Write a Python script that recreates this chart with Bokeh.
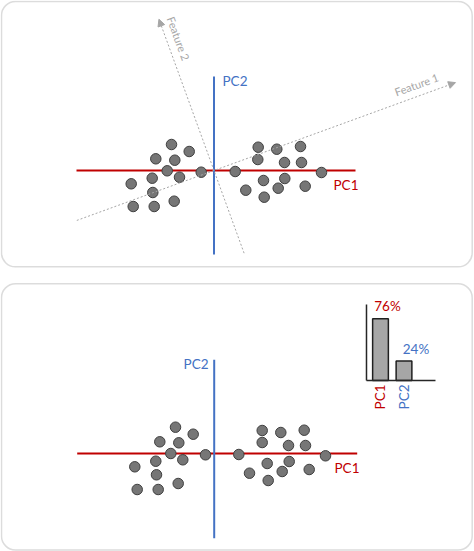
import math
from bokeh.plotting import figure
from bokeh.layouts import column
from bokeh.models import Range1d, BoxAnnotation, Arrow, NormalHead, Label
from bokeh.core.properties import value
from bokeh.embed import file_html
from bokeh.resources import INLINE

# ---------------- data ----------------
# Top panel: observations in original feature space (shown w.r.t. PC axes)
top_pc1 = [-42.5, -24.8, -58.2, -39.2, -46.8, -34.5, -61.8, -12.8, -82.8, -61.2, -80.8, -59.8, -39.8,
           44.2, 62.8, 86.5, 43.8, 70.5, 87.5, 21.2, 107.5, 49.5, 70.8, 31.8, 64.2, 91.2, 50.2]
top_pc2 = [26, 19, 11.7, 10.3, -0.3, -6.7, -7.7, -1.7, -13.3, -22, -36, -36, -30.7,
           23.3, 21.3, 24, 11, 8, 8, -1, -2, -10, -8, -19.7, -17.7, -15.7, -26.7]
# Bottom panel: observations projected on PC1 / PC2
bot_pc1 = [-38.7, -21, -54.4, -35.4, -43.4, -31.4, -58.4, -8.7, -79.4, -57.7, -77, -56, -36,
           48, 66.6, 90, 48, 74.3, 91.3, 24.6, 111.3, 53, 75, 35.3, 68, 95, 54]
bot_pc2 = [26.3, 19.3, 11.7, 10.7, 0, -6.3, -7.7, -1.3, -13.3, -21.3, -36, -36, -30,
           23, 21, 23.3, 11, 8, 8, -1, -2.3, -10, -8, -19.7, -18, -16, -27]

feature_names = ["Feature 1", "Feature 2"]
feature_angles = [20, 110]          # degrees
feature_back = [146, 88]            # extent behind origin
feature_fwd = [257, 161]            # extent ahead of origin

pc_names = ["PC1", "PC2"]
pc_var = [76, 24]                   # explained variance, %

RED = "#C00000"
BLUE = "#4472C4"
DOT_FILL = "#767676"
DOT_LINE = "#3f3f3f"
FEAT = "#a6a6a6"
BORDER = "#8c8c8c"
FONT = "Lato"


def base_fig(h, xr, yr):
    p = figure(width=474, height=h, x_range=Range1d(*xr), y_range=Range1d(*yr),
               x_axis_type=None, y_axis_type=None, toolbar_location=None,
               output_backend="svg", min_border=0, outline_line_color=None)
    p.grid.visible = False
    p.background_fill_color = "white"
    p.border_fill_color = "white"
    return p


# ---------------- top panel ----------------
top = base_fig(275, (-213.5, 260.5), (-105, 170))
top.add_layout(BoxAnnotation(left=-212.5, right=258.2, top=169, bottom=-96.3,
                             fill_alpha=0, line_color=BORDER, line_width=1.5,
                             border_radius=14))

for name, ang, b, f in zip(feature_names, feature_angles, feature_back, feature_fwd):
    c, s = math.cos(math.radians(ang)), math.sin(math.radians(ang))
    top.add_layout(Arrow(x_start=-b * c, y_start=-b * s, x_end=f * c, y_end=f * s,
                         line_color=FEAT, line_width=1, line_dash="2 2",
                         end=NormalHead(size=7, fill_color=FEAT, line_color=FEAT)))

top.add_layout(Label(x=202.5, y=86, text=feature_names[0], angle=feature_angles[0], angle_units="deg",
                     text_color=FEAT, text_font=FONT, text_font_size="11px",
                     text_align="center", text_baseline="middle"))
top.add_layout(Label(x=-35.5, y=132, text=feature_names[1], angle=feature_angles[1] - 180, angle_units="deg",
                     text_color=FEAT, text_font=FONT, text_font_size="11px",
                     text_align="center", text_baseline="middle"))

top.line([-137.5, 141.5], [0, 0], line_color=RED, line_width=2)
top.line([0, 0], [-84, 94], line_color=BLUE, line_width=2)
top.scatter(top_pc1, top_pc2, size=10.5, fill_color=DOT_FILL, line_color=DOT_LINE, line_width=1)
top.add_layout(Label(x=8.5, y=90, text="PC2", text_color=BLUE, text_font=FONT,
                     text_font_size="13.5px", text_baseline="middle", text_align="left"))
top.add_layout(Label(x=119.5, y=-14, text="PC1", text_color=RED, text_font=FONT,
                     text_font_size="13.5px", text_baseline="middle", text_align="left"))

# ---------------- bottom panel ----------------
bot = base_fig(276, (-213.7, 260.3), (-98, 178))
bot.add_layout(BoxAnnotation(left=-212.7, right=258, top=169.7, bottom=-96.5,
                             fill_alpha=0, line_color=BORDER, line_width=1.5,
                             border_radius=14))
bot.line([-137, 143], [0, 0], line_color=RED, line_width=2)
bot.line([0, 0], [-84.7, 93.7], line_color=BLUE, line_width=2)
bot.scatter(bot_pc1, bot_pc2, size=10.5, fill_color=DOT_FILL, line_color=DOT_LINE, line_width=1)
bot.add_layout(Label(x=-5.7, y=90, text="PC2", text_color=BLUE, text_font=FONT,
                     text_font_size="13.5px", text_baseline="middle", text_align="right"))
bot.add_layout(Label(x=120.3, y=-14.7, text="PC1", text_color=RED, text_font=FONT,
                     text_font_size="13.5px", text_baseline="middle", text_align="left"))

# inset bar chart of explained variance
bot.extra_x_ranges = {"barx": Range1d(-15.17, 5.0)}
bot.extra_y_ranges = {"bary": Range1d(-210.6, 129.3)}
bar_pos = [1, 2]
bot.vbar(x=bar_pos, top=pc_var, bottom=0, width=0.67, fill_color="#a6a6a6",
         line_color="#1f1f1f", line_width=1.5, x_range_name="barx", y_range_name="bary")
bot.line([0.404, 0.404], [0, 93.6], line_color="#262626", line_width=1.5,
         x_range_name="barx", y_range_name="bary")
bot.line([0.404, 3.34], [0, 0], line_color="#262626", line_width=1.5,
         x_range_name="barx", y_range_name="bary")
bot.text(x=bar_pos, y=pc_var, text=[f"{v}%" for v in pc_var], x_offset=[7, 12], y_offset=-12.5,
         text_color=[RED, BLUE], text_font=value(FONT), text_font_size="13.5px",
         text_align="center", text_baseline="middle", x_range_name="barx", y_range_name="bary")
bot.text(x=bar_pos, y=[0, 0], text=pc_names, angle=math.pi / 2, y_offset=4,
         text_color=[RED, BLUE], text_font=value(FONT), text_font_size="13.5px",
         text_align="right", text_baseline="middle", x_range_name="barx", y_range_name="bary")

layout = column(top, bot, spacing=0)
open("out.html", "w").write(file_html(layout, INLINE))
